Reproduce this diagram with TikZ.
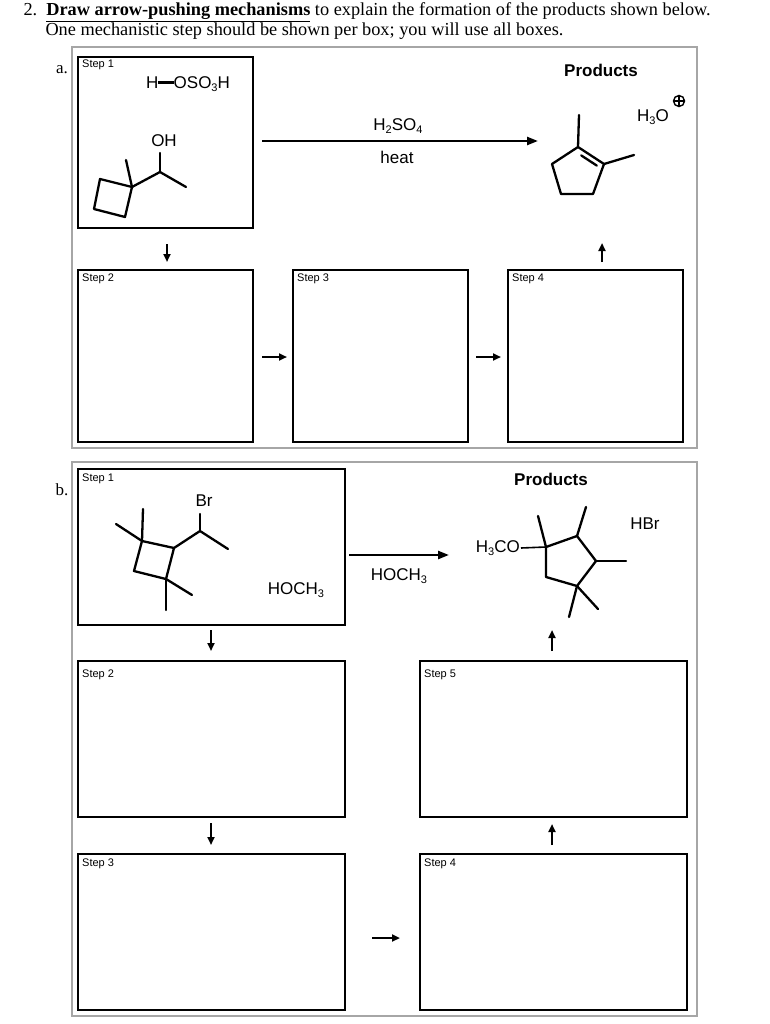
\documentclass[tikz,border=0pt]{standalone}
\usepackage{fontspec}
\setmainfont{Liberation Serif}
\newfontfamily\sans{Liberation Sans}
\usetikzlibrary{arrows.meta,calc}
\newcommand\chsub[1]{\raisebox{-0.35ex}{\fontsize{11}{12}\selectfont #1}}
\begin{document}
\begin{tikzpicture}[x=1pt,y=-1pt,
  frame/.style={draw=black!35,line width=1.2pt},
  stepbox/.style={draw,line width=2.2pt},
  bond/.style={line width=2.3pt,line cap=round},
  arr/.style={line width=2.2pt,-{Triangle[length=8pt,width=7pt]}},
  lbl/.style={font=\sans\fontsize{11}{13}\selectfont,anchor=north west,inner sep=1pt},
  chem/.style={font=\sans\fontsize{17}{19}\selectfont,inner sep=1pt}]
\useasboundingbox (0,0) rectangle (770,1024);
\node[anchor=west,font=\fontsize{18.3}{20}\selectfont] (h1) at (20,12) {2.\ \ \underline{\textbf{Draw arrow-pushing mechanisms}} to explain the formation of the products shown below.};
\node[anchor=west,font=\fontsize{18.3}{20}\selectfont] (h2) at (42,31) {One mechanistic step should be shown per box; you will use all boxes.};
% part a
\draw[frame] (72,47) rectangle (697,448);
\node[font=\fontsize{17}{19}\selectfont] (la) at (62,70) {a.};
\draw[stepbox] (78,57) rectangle (253,228); \node[lbl] (s1) at (81,59) {Step 1};
\draw[stepbox] (78,270) rectangle (253,442); \node[lbl] (s2) at (81,273) {Step 2};
\draw[stepbox] (293,270) rectangle (468,442); \node[lbl] (s3) at (296,273) {Step 3};
\draw[stepbox] (508,270) rectangle (683,442); \node[lbl] (s4) at (511,273) {Step 4};
\coordinate (d1) at (167,244); \coordinate (d2) at (167,262); \draw[arr] (d1)--(d2);
\coordinate (r1) at (262,357); \coordinate (r2) at (287,357); \draw[arr] (r1)--(r2);
\coordinate (r3) at (476,357); \coordinate (r4) at (501,357); \draw[arr] (r3)--(r4);
\coordinate (u1) at (602,262); \coordinate (u2) at (602,243); \draw[arr] (u1)--(u2);
\node[chem] (hoso) at (188,84) {H\rule[0.28em]{0.9em}{2.2pt}OSO\chsub{3}H};
\node[chem] (oh) at (164,141) {OH};
\coordinate (a1) at (132,187); \coordinate (a2) at (125,217); \coordinate (a3) at (94,209); \coordinate (a4) at (100,179);
\coordinate (am) at (126,160); \coordinate (ach) at (160,172); \coordinate (ame) at (186,187); \coordinate (aoh) at (160,153);
\draw[bond,line join=round] (a1)--(a2)--(a3)--(a4)--cycle;
\draw[bond] (a1)--(am); \draw[bond] (a1)--(ach)--(ame); \draw[bond] (ach)--(aoh);
\coordinate (m1) at (262,141); \coordinate (m2) at (538,141);
\draw[line width=2.3pt,-{Triangle[length=11pt,width=8pt]}] (m1)--(m2);
\node[chem] (h2so4) at (398,126) {H\chsub{2}SO\chsub{4}};
\node[chem] (heat) at (397,157) {heat};
\node[chem,font=\sans\bfseries\fontsize{17}{19}\selectfont] (pa) at (601,70) {Products};
\coordinate (p1) at (578,147); \coordinate (p2) at (604,164); \coordinate (p3) at (593,194); \coordinate (p4) at (561,194); \coordinate (p5) at (552,164);
\coordinate (pm1) at (579,115); \coordinate (pm2) at (634,155);
\draw[bond,line join=round] (p1)--(p2)--(p3)--(p4)--(p5)--cycle;
\draw[bond] ($(p1)!0.2!(p2)+(-2,5)$) -- ($(p1)!0.8!(p2)+(-2,5)$);
\draw[bond] (p1)--(pm1); \draw[bond] (p2)--(pm2);
\node[chem] (h3o) at (653,117) {H\chsub{3}O};
\node[circle,draw,line width=1.4pt,inner sep=0pt,minimum size=11pt] (plus) at (679,101) {};
\draw[line width=1.6pt] (plus.west)--(plus.east) (plus.north)--(plus.south);
% part b
\draw[frame] (72,462) rectangle (697,1016);
\node[font=\fontsize{17}{19}\selectfont] (lb) at (62,490) {b.};
\draw[stepbox] (78,469) rectangle (345,625); \node[lbl] (t1) at (81,473) {Step 1};
\draw[stepbox] (78,661) rectangle (345,817); \node[lbl] (t2) at (81,669) {Step 2};
\draw[stepbox] (420,661) rectangle (687,817); \node[lbl] (t5) at (423,669) {Step 5};
\draw[stepbox] (78,854) rectangle (345,1010); \node[lbl] (t3) at (81,858) {Step 3};
\draw[stepbox] (420,854) rectangle (687,1010); \node[lbl] (t4) at (423,858) {Step 4};
\coordinate (e1) at (211,630); \coordinate (e2) at (211,651); \draw[arr] (e1)--(e2);
\coordinate (e3) at (211,823); \coordinate (e4) at (211,845); \draw[arr] (e3)--(e4);
\coordinate (f1) at (552,651); \coordinate (f2) at (552,630); \draw[arr] (f1)--(f2);
\coordinate (f3) at (552,845); \coordinate (f4) at (552,824); \draw[arr] (f3)--(f4);
\coordinate (g1) at (372,938); \coordinate (g2) at (400,938); \draw[arr] (g1)--(g2);
\coordinate (b1) at (142,541); \coordinate (b2) at (174,548); \coordinate (b3) at (166,579); \coordinate (b4) at (134,571);
\coordinate (bm1) at (143,509); \coordinate (bm2) at (116,524); \coordinate (bm3) at (166,610); \coordinate (bm4) at (192,595);
\coordinate (bch) at (200,531); \coordinate (bbr) at (200,514); \coordinate (bme) at (228,549);
\draw[bond,line join=round] (b1)--(b2)--(b3)--(b4)--cycle;
\draw[bond] (b1)--(bm1); \draw[bond] (b1)--(bm2); \draw[bond] (b3)--(bm3); \draw[bond] (b3)--(bm4);
\draw[bond] (b2)--(bch)--(bme); \draw[bond] (bch)--(bbr);
\node[chem] (br) at (204,501) {Br};
\node[chem] (meoh1) at (296,590) {HOCH\chsub{3}};
\coordinate (n1) at (349,555); \coordinate (n2) at (449,555);
\draw[line width=2.3pt,-{Triangle[length=11pt,width=8pt]}] (n1)--(n2);
\node[chem] (meoh2) at (399,576) {HOCH\chsub{3}};
\node[chem,font=\sans\bfseries\fontsize{17}{19}\selectfont] (pb) at (551,479) {Products};
\node[chem] (hbr) at (645,524) {HBr};
\coordinate (c1) at (546,547); \coordinate (c2) at (577,536); \coordinate (c3) at (596,561); \coordinate (c4) at (577,586); \coordinate (c5) at (546,577);
\coordinate (cm1) at (538,516); \coordinate (cm2) at (586,507); \coordinate (cm3) at (626,561); \coordinate (cm4) at (569,617); \coordinate (cm5) at (598,609);
\draw[bond,line join=round] (c1)--(c2)--(c3)--(c4)--(c5)--cycle;
\draw[bond] (c1)--(cm1); \draw[bond] (c2)--(cm2); \draw[bond] (c3)--(cm3); \draw[bond] (c4)--(cm4); \draw[bond] (c4)--(cm5);
\node[chem,anchor=east] (h3co) at (521,548) {H\chsub{3}CO};
\draw[line width=1.6pt] (h3co.east)--(c1);
\end{tikzpicture}
\end{document}
